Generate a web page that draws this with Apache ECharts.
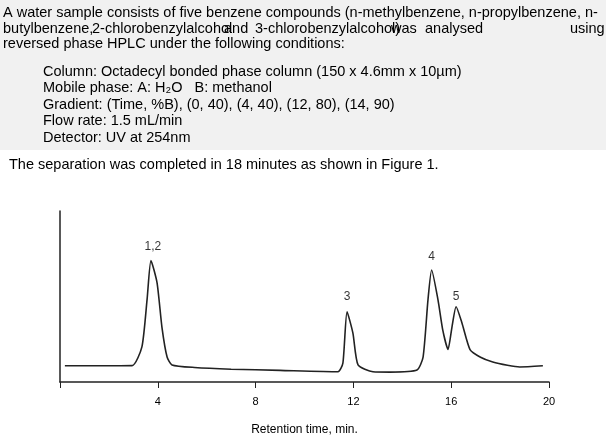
<!DOCTYPE html>
<html>
<head>
<meta charset="utf-8">
<script src="https://cdn.jsdelivr.net/npm/echarts@6/dist/echarts.min.js"></script>
<style>html,body{margin:0;padding:0;background:#fff}#main{width:615px;height:443px}</style>
</head>
<body>
<div id="main"></div>
<script>
// retention time (min) and detector signal
var times = [0.2, 1.5, 2.95, 3.35, 3.56, 3.72, 3.97, 4.17, 4.38, 4.58, 5.5, 7, 9, 11.37,
    11.57, 11.74, 11.98, 12.19, 12.8, 13.5, 14.6,
    14.85, 15.05, 15.2, 15.46, 15.66, 15.87, 16.03, 16.2, 16.44, 16.77, 17.2, 17.7, 18.3, 18.8, 19.75];
var signal = [9.5, 9.5, 9.6, 20.5, 48, 71, 58, 32, 14.6, 10, 8.5, 7.5, 6.8, 6,
    11, 41, 28.6, 10, 6, 5.8, 7,
    14.6, 48, 65.5, 48, 30, 19, 32, 44, 34.5, 19, 14.5, 11.7, 9.8, 8.8, 9.5];
var peakNames = ['1,2', '3', '4', '5'];
var peakTimes = [3.8, 11.74, 15.2, 16.2];
var peakTops = [79, 50, 73.5, 50];
var xTicks = [4, 8, 12, 16, 20];

var myChart = echarts.init(document.getElementById('main'));
var font = '"Liberation Sans", Arial, sans-serif';
var tf = '14.5px ' + font;
var lines = [
    { t: 'A water sample consists of five benzene compounds (n-methylbenzene, n-propylbenzene, n-', x: 3, y: 13 },
    { t: 'reversed phase HPLC under the following conditions:', x: 3, y: 44 },
    { t: 'Column: Octadecyl bonded phase column (150 x 4.6mm x 10µm)', x: 43, y: 72 },
    { t: 'Mobile phase: A: H₂O   B: methanol', x: 43, y: 88 },
    { t: 'Gradient: (Time, %B), (0, 40), (4, 40), (12, 80), (14, 90)', x: 43, y: 105 },
    { t: 'Flow rate: 1.5 mL/min', x: 43, y: 121 },
    { t: 'Detector: UV at 254nm', x: 43, y: 138 },
    { t: 'The separation was completed in 18 minutes as shown in Figure 1.', x: 9, y: 165 }
];
var words2 = [['butylbenzene,', 3], ['2-chlorobenzylalcohol', 92], ['and', 224],
    ['3-chlorobenzylalcohol)', 255], ['was', 391], ['analysed', 425], ['using', 570]];
var graphics = [{ type: 'rect', shape: { x: 0, y: 0, width: 606, height: 150 }, style: { fill: '#f1f1f1' }, z: -10 }];
lines.forEach(function (l) {
    graphics.push({ type: 'text', x: l.x, y: l.y, style: { text: l.t, font: tf, fill: '#000', textVerticalAlign: 'middle' } });
});
words2.forEach(function (w) {
    graphics.push({ type: 'text', x: w[1], y: 29, style: { text: w[0], font: tf, fill: '#000', textVerticalAlign: 'middle' } });
});

myChart.setOption({
    backgroundColor: '#fff',
    animation: false,
    graphic: graphics,
    grid: { left: 60, right: 66, top: 211, bottom: 61 },
    xAxis: {
        type: 'value', min: 0, max: 20, interval: 4,
        name: 'Retention time, min.', nameLocation: 'middle', nameGap: 42,
        nameTextStyle: { fontFamily: font, fontSize: 12, color: '#000' },
        axisLine: { lineStyle: { color: '#222', width: 1.5 } },
        axisTick: { length: 6, lineStyle: { color: '#222' } },
        axisLabel: { fontFamily: font, fontSize: 11, color: '#000', margin: 14,
            formatter: function (v) { return xTicks.indexOf(v) >= 0 ? v : ''; } },
        splitLine: { show: false }
    },
    yAxis: {
        type: 'value', min: 0, max: 100,
        axisLine: { show: true, onZero: false, lineStyle: { color: '#222', width: 1.5 } },
        axisTick: { show: false }, axisLabel: { show: false }, splitLine: { show: false }
    },
    series: [{
        type: 'line', smooth: 0.2, symbol: 'none',
        lineStyle: { color: '#222', width: 1.6 },
        data: times.map(function (t, i) { return [t, signal[i]]; })
    }, {
        type: 'scatter', symbolSize: 0,
        label: { show: true, position: 'inside', fontFamily: font, fontSize: 12, color: '#000',
            formatter: function (p) { return peakNames[p.dataIndex]; } },
        data: peakTimes.map(function (t, i) { return [t, peakTops[i]]; })
    }]
});
</script>
</body>
</html>
